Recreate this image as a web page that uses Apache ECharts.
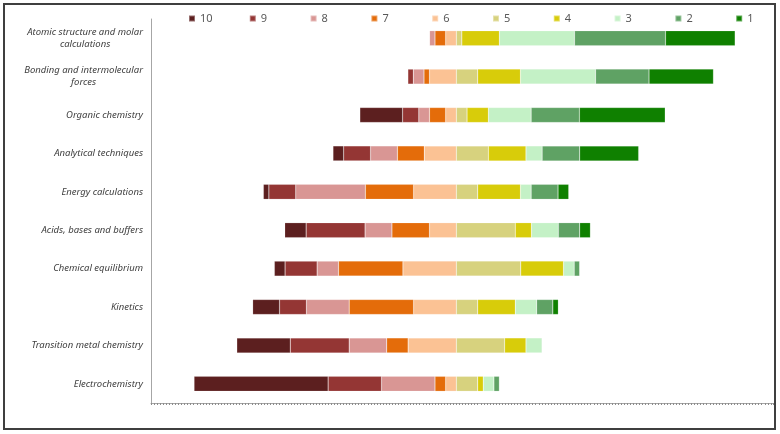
<!DOCTYPE html>
<html>
<head>
<meta charset="utf-8">
<script src="https://cdn.jsdelivr.net/npm/echarts@6/dist/echarts.min.js"></script>
<style>
  html, body { margin: 0; padding: 0; background: #fff; }
  #chart { width: 780px; height: 434px; }
</style>
</head>
<body>
<div id="chart"></div>
<script>
// Categories, top to bottom
const topics = [
  'Atomic structure and molar\ncalculations',
  'Bonding and intermolecular\nforces',
  'Organic chemistry',
  'Analytical techniques',
  'Energy calculations',
  'Acids, bases and buffers',
  'Chemical equilibrium',
  'Kinetics',
  'Transition metal chemistry',
  'Electrochemistry'
]

// Percentage of responses per score (10 = hardest ... 1 = easiest)
const score10 = [0, 0, 14.0, 3.5, 1.8, 7.0, 3.5, 8.8, 17.5, 43.9]
const score9 = [0, 1.8, 5.3, 8.8, 8.8, 19.3, 10.5, 8.8, 19.3, 17.5]
const score8 = [1.8, 3.5, 3.5, 8.8, 22.8, 8.8, 7.0, 14.0, 12.3, 17.5]
const score7 = [3.5, 1.8, 5.3, 8.8, 15.8, 12.3, 21.1, 21.1, 7.0, 3.5]
const score6 = [3.5, 8.8, 3.5, 10.5, 14.0, 8.8, 17.5, 14.0, 15.8, 3.5]
const score5 = [1.8, 7.0, 3.5, 10.5, 7.0, 19.3, 21.1, 7.0, 15.8, 7.0]
const score4 = [12.3, 14.0, 7.0, 12.3, 14.0, 5.3, 14.0, 12.3, 7.0, 1.8]
const score3 = [24.6, 24.6, 14.0, 5.3, 3.5, 8.8, 3.5, 7.0, 5.3, 3.5]
const score2 = [29.8, 17.5, 15.8, 12.3, 8.8, 7.0, 1.8, 5.3, 0, 1.8]
const score1 = [22.8, 21.1, 28.1, 19.3, 3.5, 3.5, 0, 1.8, 0, 0]

const legendNames = ['10', '9', '8', '7', '6', '5', '4', '3', '2', '1']

// Scores 6-10 go to the left of the centre line, 5-1 to the right
const leftSide = [
  { name: '6', data: score6, color: '#fbc294' },
  { name: '7', data: score7, color: '#e46c0a' },
  { name: '8', data: score8, color: '#d99694' },
  { name: '9', data: score9, color: '#943634' },
  { name: '10', data: score10, color: '#5c1f1f' }
]
const rightSide = [
  { name: '5', data: score5, color: '#d7d27e' },
  { name: '4', data: score4, color: '#d8cc0a' },
  { name: '3', data: score3, color: '#c4f1c6' },
  { name: '2', data: score2, color: '#5fa264' },
  { name: '1', data: score1, color: '#0f8000' }
]

const makeSeries = (s, sign) => ({
  name: s.name,
  type: 'bar',
  stack: 'total',
  barWidth: 15,
  data: s.data.map(v => sign * v),
  itemStyle: {
    color: s.color,
    borderColor: 'rgba(255,255,255,0.35)',
    borderWidth: 0.5
  }
})

const series = [
  ...leftSide.map(s => makeSeries(s, -1)),
  ...rightSide.map(s => makeSeries(s, 1))
]

// one legend per item so the entries sit on an even spacing like the original
const legends = legendNames.map((name, i) => ({
  data: [name],
  left: 183 + i * 60.8,
  top: 8,
  itemWidth: 6,
  itemHeight: 6,
  icon: 'rect',
  textStyle: {
    color: '#595959',
    fontSize: 11,
    fontFamily: 'Noto Sans'
  }
}))

const chart = echarts.init(document.getElementById('chart'))

chart.setOption({
  animation: false,
  backgroundColor: '#fff',
  legend: legends,
  grid: {
    left: 151,
    right: 7,
    top: 19,
    bottom: 31,
    containLabel: false
  },
  xAxis: {
    type: 'value',
    min: -100,
    max: 103.7,
    interval: 1,
    axisLine: { show: true, lineStyle: { color: '#a6a6a6', width: 1 } },
    axisTick: { show: true, length: 2, lineStyle: { color: '#8c8c8c' } },
    axisLabel: { show: false },
    splitLine: { show: false }
  },
  yAxis: {
    type: 'category',
    data: topics,
    inverse: true,
    axisLine: { show: true, onZero: false, lineStyle: { color: '#a6a6a6', width: 1 } },
    axisTick: { show: false },
    axisLabel: {
      margin: 8,
      formatter: v => '{c|' + v + '}',
      rich: {
        c: {
          align: 'center',
          fontStyle: 'italic',
          fontSize: 9.5,
          lineHeight: 12,
          fontFamily: 'Noto Sans',
          color: '#404040'
        }
      }
    }
  },
  graphic: [
    {
      type: 'rect',
      shape: { x: 4, y: 4, width: 771, height: 425 },
      style: { fill: 'none', stroke: '#3f3f3f', lineWidth: 2 },
      silent: true
    }
  ],
  series: series
})

window.addEventListener('resize', () => chart.resize())
</script>
</body>
</html>
